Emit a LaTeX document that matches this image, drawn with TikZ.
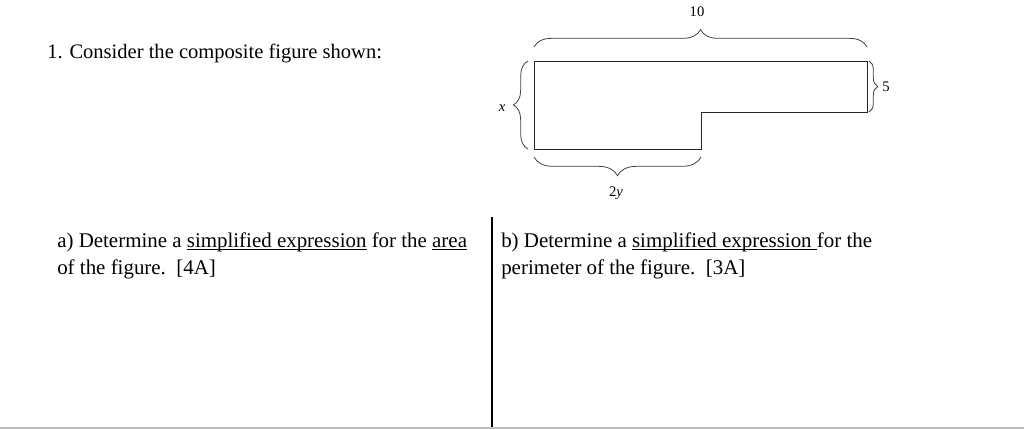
\documentclass[tikz,border=0pt]{standalone}
\usepackage{fontspec}
\setmainfont{Liberation Serif}
\usetikzlibrary{decorations.pathreplacing}
\newcommand{\undl}[1]{\setbox0\hbox{#1}\rlap{\rule[-2.2pt]{\wd0}{0.7pt}}\box0\relax}
\begin{document}
\begin{tikzpicture}[x=0.75pt,y=-0.75pt]
    \tikzset{question/.style = {anchor=base west, inner sep=0pt, font=\fontsize{15.7}{18}\selectfont}}
    \tikzset{dimlabel/.style = {inner sep=0pt, font=\fontsize{11}{13}\selectfont}}
    \tikzset{outline/.style = {draw=black!85, line width=0.7pt}}
    \tikzset{dimbrace/.style = {draw=black!75, line width=0.6pt, decorate}}
    \useasboundingbox (0,0) rectangle (1024,429);
    % heading
    \node[question, font=\fontsize{15.4}{18}\selectfont] (head) at (47,58) {1. Consider the composite figure shown:};
    % corners of the composite figure
    \coordinate (tl) at (534,61);
    \coordinate (tr) at (867,61);
    \coordinate (sr) at (867,112);
    \coordinate (si) at (701,112);
    \coordinate (bs) at (701,149);
    \coordinate (bl) at (534,149);
    \draw[outline] (tl) -- (tr) -- (sr) -- (si) -- (bs) -- (bl) -- cycle;
    % dimension braces
    \coordinate (tbw) at (534,47);
    \coordinate (tbe) at (867,47);
    \draw[dimbrace, decoration={brace,amplitude=13pt}] (tbw) -- (tbe);
    \coordinate (lbs) at (528,149);
    \coordinate (lbn) at (528,61);
    \draw[dimbrace, decoration={brace,amplitude=11pt}] (lbs) -- (lbn);
    \coordinate (rbn) at (869,61);
    \coordinate (rbs) at (869,112);
    \draw[dimbrace, decoration={brace,amplitude=6.5pt}] (rbn) -- (rbs);
    \coordinate (bbe) at (701,157);
    \coordinate (bbw) at (534,157);
    \draw[dimbrace, decoration={brace,amplitude=14pt}] (bbe) -- (bbw);
    % dimension labels
    \node[dimlabel] (ten) at (697,12) {10};
    \node[dimlabel] (ex) at (502,108) {\textit{x}};
    \node[dimlabel] (five) at (886,87) {5};
    \node[dimlabel] (twoy) at (616,193) {2\textit{y}};
    % answer boxes
    \coordinate (divtop) at (492,217);
    \coordinate (divbot) at (492,429);
    \draw[line width=1.5pt] (divtop) -- (divbot);
    \coordinate (basew) at (0,428);
    \coordinate (basee) at (1024,428);
    \draw[black!25, line width=1pt] (basew) -- (basee);
    \node[question] (qa1) at (57,247) {a) Determine a \undl{simplified expression} for the \undl{area}};
    \node[question] (qa2) at (57,274) {of the figure.\ \ [4A]};
    \node[question] (qb1) at (501,247) {b) Determine a \undl{simplified expression }for the};
    \node[question] (qb2) at (501,274) {perimeter of the figure.\ \ [3A]};
\end{tikzpicture}
\end{document}
